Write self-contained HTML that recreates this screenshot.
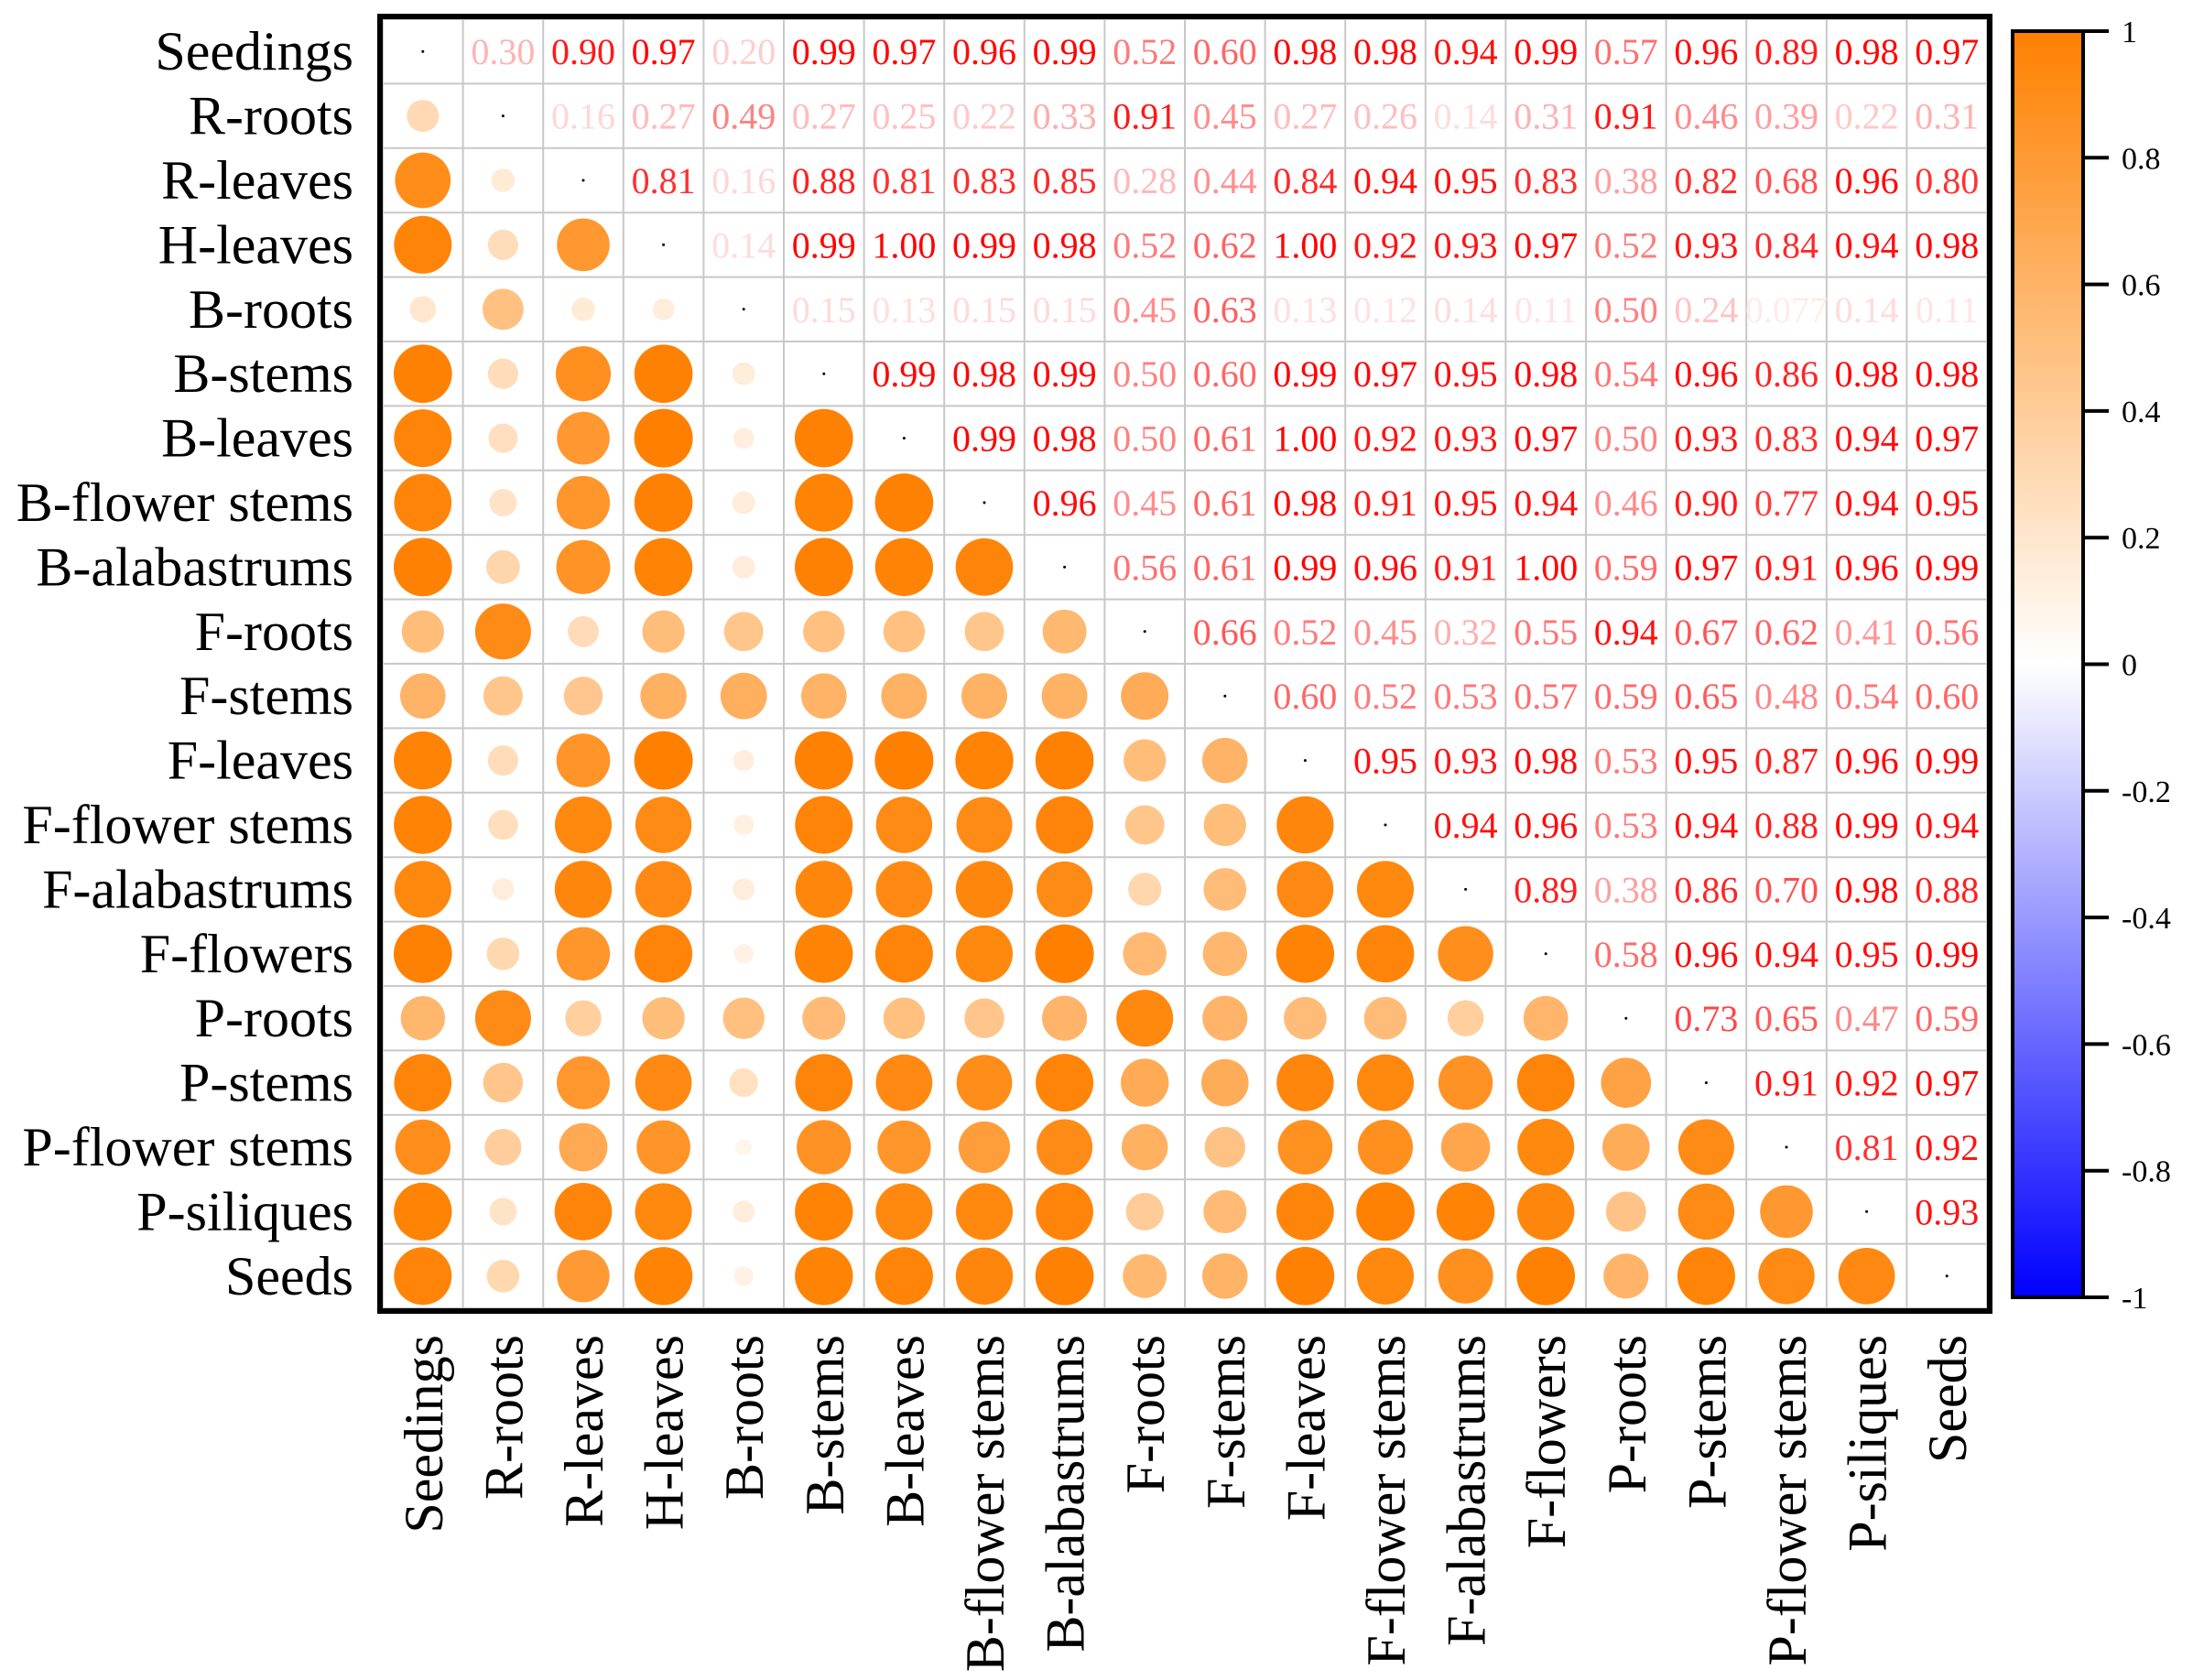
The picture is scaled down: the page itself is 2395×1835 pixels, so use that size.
<!DOCTYPE html>
<html><head><meta charset="utf-8"><style>html,body{margin:0;padding:0;background:#fff}svg{display:block}</style></head>
<body>
<svg id="s" xmlns="http://www.w3.org/2000/svg" width="2395" height="1835" viewBox="0 0 2395 1835" font-family="'Liberation Serif', serif">
<defs>
<linearGradient id="cb" x1="0" y1="0" x2="0" y2="1">
<stop offset="0" stop-color="#ff8000"/><stop offset="0.5" stop-color="#ffffff"/><stop offset="1" stop-color="#0000ff"/>
</linearGradient>
</defs>
<g id="g"></g>
</svg>
<script>
const N=["Seedings","R-roots","R-leaves","H-leaves","B-roots","B-stems","B-leaves","B-flower stems","B-alabastrums","F-roots","F-stems","F-leaves","F-flower stems","F-alabastrums","F-flowers","P-roots","P-stems","P-flower stems","P-siliques","Seeds"];
const U=[
"0.30 0.90 0.97 0.20 0.99 0.97 0.96 0.99 0.52 0.60 0.98 0.98 0.94 0.99 0.57 0.96 0.89 0.98 0.97",
"0.16 0.27 0.49 0.27 0.25 0.22 0.33 0.91 0.45 0.27 0.26 0.14 0.31 0.91 0.46 0.39 0.22 0.31",
"0.81 0.16 0.88 0.81 0.83 0.85 0.28 0.44 0.84 0.94 0.95 0.83 0.38 0.82 0.68 0.96 0.80",
"0.14 0.99 1.00 0.99 0.98 0.52 0.62 1.00 0.92 0.93 0.97 0.52 0.93 0.84 0.94 0.98",
"0.15 0.13 0.15 0.15 0.45 0.63 0.13 0.12 0.14 0.11 0.50 0.24 0.077 0.14 0.11",
"0.99 0.98 0.99 0.50 0.60 0.99 0.97 0.95 0.98 0.54 0.96 0.86 0.98 0.98",
"0.99 0.98 0.50 0.61 1.00 0.92 0.93 0.97 0.50 0.93 0.83 0.94 0.97",
"0.96 0.45 0.61 0.98 0.91 0.95 0.94 0.46 0.90 0.77 0.94 0.95",
"0.56 0.61 0.99 0.96 0.91 1.00 0.59 0.97 0.91 0.96 0.99",
"0.66 0.52 0.45 0.32 0.55 0.94 0.67 0.62 0.41 0.56",
"0.60 0.52 0.53 0.57 0.59 0.65 0.48 0.54 0.60",
"0.95 0.93 0.98 0.53 0.95 0.87 0.96 0.99",
"0.94 0.96 0.53 0.94 0.88 0.99 0.94",
"0.89 0.38 0.86 0.70 0.98 0.88",
"0.58 0.96 0.94 0.95 0.99",
"0.73 0.65 0.47 0.59",
"0.91 0.92 0.97",
"0.81 0.92",
"0.93"];
const M=[];for(let i=0;i<20;i++){M.push(new Array(20).fill(1));}
U.forEach((r,i)=>{r.split(" ").forEach((v,k)=>{const j=i+1+k;M[i][j]=v;M[j][i]=v;});});
const x0=418,cw=87.6,y0=21,ch=70.4;
let h="";
for(let k=0;k<=20;k++){
 h+=`<line x1="${x0+k*cw}" y1="${y0}" x2="${x0+k*cw}" y2="${y0+20*ch}" stroke="#c8c8c8" stroke-width="2"/>`;
 h+=`<line x1="${x0}" y1="${y0+k*ch}" x2="${x0+20*cw}" y2="${y0+k*ch}" stroke="#c8c8c8" stroke-width="2"/>`;
}
for(let i=0;i<20;i++)for(let j=0;j<20;j++){
 const cx=x0+(j+0.5)*cw,cy=y0+(i+0.5)*ch;
 if(i==j){h+=`<circle cx="${cx}" cy="${cy}" r="1.5" fill="#000"/>`;continue;}
 const s=M[i][j],v=parseFloat(s);
 if(j>i){const c=Math.round(255*(1-v));h+=`<text x="${cx}" y="${cy+14}" font-size="40" text-anchor="middle" fill="rgb(255,${c},${c})">${s}</text>`;}
 else{const g=Math.round(255-127*v),b=Math.round(255*(1-v));h+=`<circle cx="${cx}" cy="${cy}" r="${32*Math.sqrt(v)}" fill="rgb(255,${g},${b})"/>`;}
}
h+=`<rect x="415" y="18" width="1758" height="1414" fill="none" stroke="#000" stroke-width="6"/>`;
N.forEach((n,i)=>{
 h+=`<text x="386" y="${y0+(i+0.5)*ch+20}" font-size="60" text-anchor="end">${n}</text>`;
 const cx=x0+(i+0.5)*cw+21;
 h+=`<text transform="translate(${cx},1458) rotate(-90)" font-size="60" text-anchor="end">${n}</text>`;
});
const by0=34,by1=1417;
h+=`<rect x="2198" y="${by0}" width="77" height="${by1-by0}" fill="url(#cb)" stroke="#000" stroke-width="4"/>`;
for(let k=0;k<=10;k++){
 const v=1-0.2*k,y=by0+(by1-by0)*k/10;
 let t=Math.abs(v)<1e-9?"0":(Math.abs(Math.abs(v)-1)<1e-9?(v>0?"1":"-1"):v.toFixed(1));
 h+=`<line x1="2275" y1="${y}" x2="2303" y2="${y}" stroke="#000" stroke-width="4"/>`;
 h+=`<text x="2317" y="${y+12}" font-size="34">${t}</text>`;
}
document.getElementById("g").innerHTML=h;
</script>
</body></html>
